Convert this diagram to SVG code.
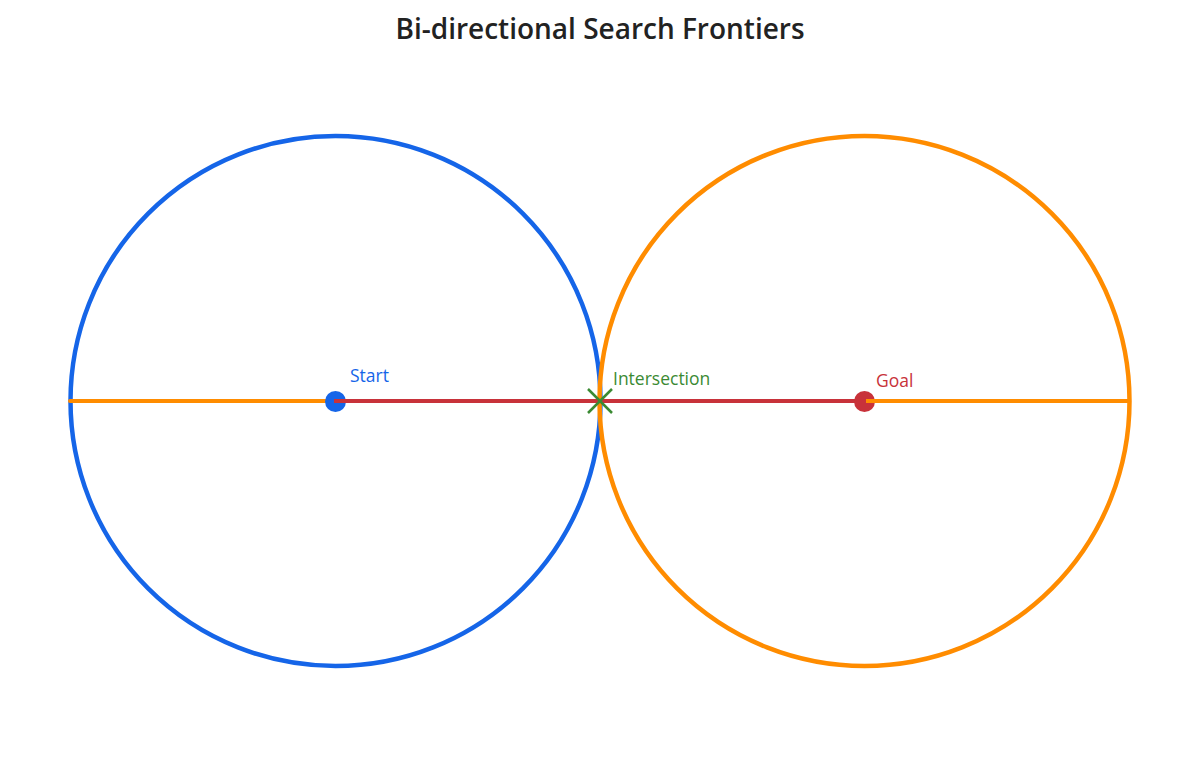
<svg xmlns="http://www.w3.org/2000/svg" width="1200" height="763" viewBox="0 0 1200 763">
<style>
.title{font-family:"Open Sans",Lato,"Liberation Sans",sans-serif;font-weight:600;font-size:28px;fill:#222222}
.lbl{font-family:"Open Sans",Lato,"Liberation Sans",sans-serif;font-size:17.5px}
.frontier{fill:none;stroke-width:4.5}
</style>
<rect width="1200" height="763" fill="#ffffff"/>
<text class="title" x="600" y="39" text-anchor="middle">Bi-directional Search Frontiers</text>
<g id="start-frontier"><circle class="frontier" cx="335.5" cy="401" r="265" stroke="#1565e8"/></g>
<g id="goal-frontier"><circle class="frontier" cx="864.5" cy="401" r="265" stroke="#ff8c00"/></g>
<g id="connectors">
<line x1="70" y1="401" x2="335" y2="401" stroke="#ff8c00" stroke-width="4" stroke-linecap="round"/>
</g>
<g id="start"><circle cx="335.5" cy="401.5" r="10.5" fill="#1565e8"/><text class="lbl" x="350" y="382" fill="#1565e8">Start</text></g>
<g id="path">
<line x1="334" y1="401" x2="865" y2="401" stroke="#c8323a" stroke-width="4"/>
</g>
<g id="goal"><circle cx="864.5" cy="401.5" r="10.5" fill="#c8323a"/><text class="lbl" x="876" y="387" fill="#c8323a">Goal</text></g>
<g id="goal-line">
<line x1="866" y1="401" x2="1129" y2="401" stroke="#ff8c00" stroke-width="4"/>
</g>
<g id="intersection">
<path d="M588 389 L612 413 M612 389 L588 413" stroke="#3b8a33" stroke-width="2.5" fill="none"/>
<text class="lbl" x="613" y="385" fill="#3b8a33">Intersection</text>
</g>
</svg>
